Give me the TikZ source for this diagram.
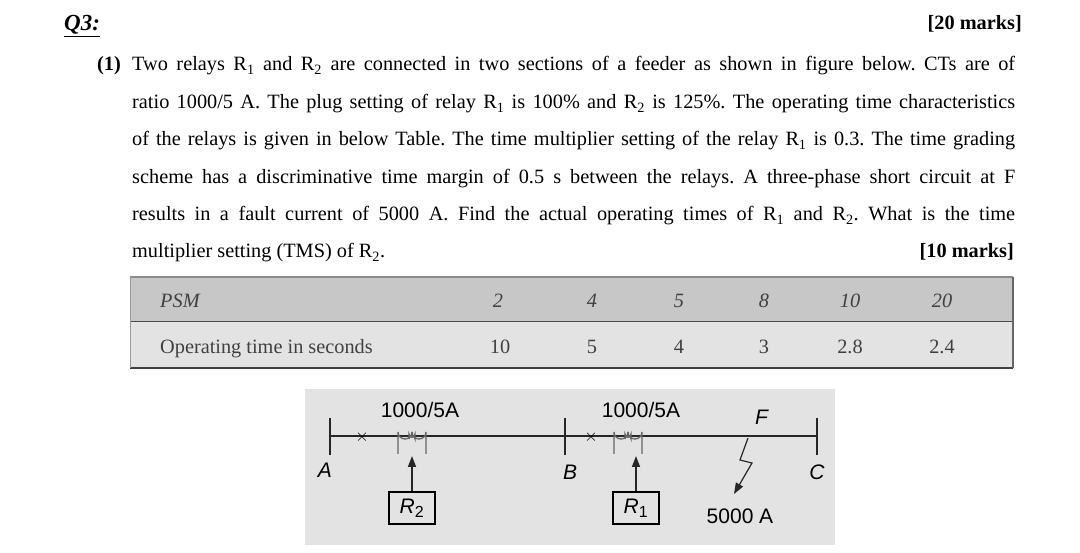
\documentclass[tikz,border=0pt]{standalone}
\usepackage{fontspec}
\setmainfont{Liberation Serif}
\newfontfamily\figfont{Liberation Sans}
\usetikzlibrary{arrows.meta}
\frenchspacing
\begin{document}
\begin{tikzpicture}[x=1pt,y=-1pt,
  txt/.style={anchor=base west,inner sep=0pt,font=\fontsize{20.3}{22}\selectfont},
  cell/.style={anchor=base,inner sep=0pt,font=\fontsize{20.3}{22}\selectfont},
  fl/.style={inner sep=0pt,font=\figfont\fontsize{21}{22}\selectfont},
  wire/.style={line width=1.5pt,black!85},
  ct/.style={line width=1.3pt,black!60},
  tip/.style={-{Triangle[length=11pt,width=8pt]}}]
\useasboundingbox (0,0) rectangle (1080,553);
\fill[white] (0,0) rectangle (1080,553);
\node[txt,font=\bfseries\itshape\fontsize{23}{24}\selectfont] (q) at (64,31) {\underline{Q3:}};
\node[inner sep=0pt,anchor=base east,font=\bfseries\fontsize{20.3}{22}\selectfont] (m20) at (1022,30) {[20 marks]};
\node[txt,font=\bfseries\fontsize{20.3}{22}\selectfont] (n1) at (97,71) {(1)};
\node[txt] (l1) at (132,71) {\makebox[883pt][s]{Two relays R\textsubscript{1} and R\textsubscript{2} are connected in two sections of a feeder as shown in figure below. CTs are of}};
\node[txt] (l2) at (132,109) {\makebox[883pt][s]{ratio 1000/5 A. The plug setting of relay R\textsubscript{1} is 100\% and R\textsubscript{2} is 125\%. The operating time characteristics}};
\node[txt] (l3) at (132,146) {\makebox[883pt][s]{of the relays is given in below Table. The time multiplier setting of the relay R\textsubscript{1} is 0.3. The time grading}};
\node[txt] (l4) at (132,184) {\makebox[883pt][s]{scheme has a discriminative time margin of 0.5 s between the relays. A three-phase short circuit at F}};
\node[txt] (l5) at (132,221) {\makebox[883pt][s]{results in a fault current of 5000 A. Find the actual operating times of R\textsubscript{1} and R\textsubscript{2}. What is the time}};
\node[txt] (l6) at (132,258) {multiplier setting (TMS) of R\textsubscript{2}.};
\node[inner sep=0pt,anchor=base east,font=\bfseries\fontsize{20.3}{22}\selectfont] (m10) at (1014,258) {[10 marks]};
% table
\fill[black!22] (130,278) rectangle (1013,322);
\fill[black!11] (130,322) rectangle (1013,367);
\draw[black!45,line width=1.5pt] (130,277) -- (1013,277);
\draw[black!70,line width=1pt] (130,322) -- (1013,322);
\draw[black!75,line width=2.5pt] (130,368) -- (1013,368);
\draw[black!60,line width=1.5pt] (1013,277) -- (1013,368);
\draw[black!40,line width=1pt] (130,277) -- (130,368);
\begin{scope}[every node/.style={cell,font=\itshape\fontsize{20.3}{22}\selectfont,black!75}]
\node[anchor=base west] (psm) at (160,308) {PSM};
\node (a1) at (498,308) {2};\node (a2) at (592,308) {4};\node (a3) at (679,308) {5};
\node (a4) at (764,308) {8};\node (a5) at (850,308) {10};\node (a6) at (942,308) {20};
\end{scope}
\begin{scope}[every node/.style={cell,black!75}]
\node[anchor=base west] (op) at (160,354) {Operating time in seconds};
\node (b1) at (500,354) {10};\node (b2) at (592,354) {5};\node (b3) at (679,354) {4};
\node (b4) at (764,354) {3};\node (b5) at (850,354) {2.8};\node (b6) at (942,354) {2.4};
\end{scope}
% figure
\fill[black!11] (305,389) rectangle (835,545);
\coordinate (pa) at (330,436); \coordinate (pc) at (817,436);
\draw[wire] (pa) -- (pc);
\foreach \x in {330,565,817} \draw[wire] (\x,418) -- (\x,455);
\node[fl] (A) at (325,470) {\textit{A}};
\node[fl] (B) at (570,472) {\textit{B}};
\node[fl] (C) at (817,472) {\textit{C}};
\foreach \x in {362,591} \node[fl,font=\figfont\fontsize{16}{16}\selectfont] at (\x,437) {$\times$};
\foreach \c in {412,628}{
  \draw[ct] (\c-14,454) -- (\c-14,432) arc[start angle=180,end angle=0,radius=7] -- (\c,438);
  \draw[ct] (\c,434) -- (\c,432) arc[start angle=180,end angle=0,radius=7] -- (\c+14,454);
  \draw[ct] (\c-3,439) -- (\c-3,434) arc[start angle=180,end angle=0,radius=3] -- (\c+3,439) arc[start angle=0,end angle=-180,radius=3];
}
\node[fl] (t1) at (420,410) {1000/5A};
\node[fl] (t2) at (641,410) {1000/5A};
\node[fl] (F) at (762,417) {\textit{F}};
\node[fl,draw,line width=1.2pt,minimum width=46pt,minimum height=32pt] (R2) at (412,508) {\textit{R}\textsubscript{\fontsize{16}{16}\selectfont 2}};
\node[fl,draw,line width=1.2pt,minimum width=46pt,minimum height=32pt] (R1) at (636,508) {\textit{R}\textsubscript{\fontsize{16}{16}\selectfont 1}};
\coordinate (c2) at (412,456); \coordinate (c1) at (636,456);
\draw[wire,tip] (R2.north) -- (c2);
\draw[wire,tip] (R1.north) -- (c1);
\coordinate (f0) at (748,438); \coordinate (f1) at (740,460); \coordinate (f2) at (752,463);
\coordinate (f3) at (734,494);
\draw[wire,line width=1.2pt,tip] (f0) -- (f1) -- (f2) -- (f3);
\node[fl] (I) at (740,516) {5000 A};
\end{tikzpicture}
\end{document}
